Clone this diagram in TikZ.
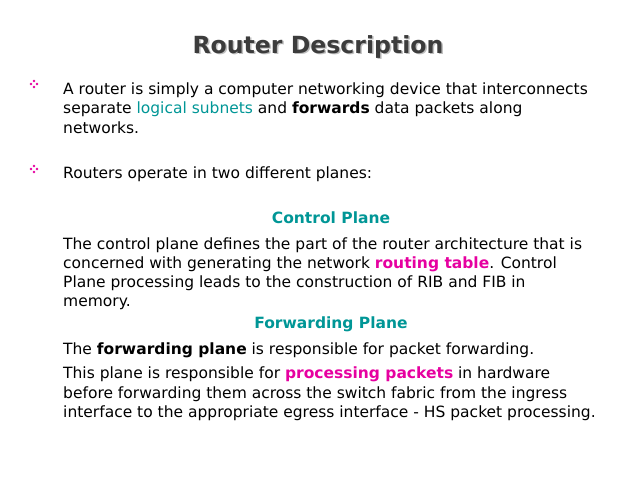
\documentclass[tikz,border=0pt]{standalone}
\usepackage{fontspec}
\setmainfont{DejaVu Sans}
\definecolor{teal2}{RGB}{0,150,150}
\definecolor{pinkm}{RGB}{230,0,160}
\definecolor{titlegray}{RGB}{60,60,60}
\begin{document}
\begin{tikzpicture}[x=1pt,y=-1pt,
  ln/.style={anchor=base west,inner sep=0pt,font=\fontsize{15.5}{18}\selectfont},
  ctr/.style={anchor=base,inner sep=0pt,font=\fontsize{15.5}{18}\selectfont\bfseries,text=teal2},
  bul/.style={fill=pinkm,circle,inner sep=0pt,minimum size=2.8pt}]
\useasboundingbox (0,0) rectangle (638,478);
\node[anchor=base,inner sep=0pt,font=\fontsize{23.6}{28}\selectfont\bfseries,text=black!25] (tsh) at (319.5,55) {Router Description};
\node[anchor=base,inner sep=0pt,font=\fontsize{23.6}{28}\selectfont\bfseries,text=titlegray] (title) at (318,53.5) {Router Description};
\node[bul] (a1) at (34,81) {}; \node[bul] (a2) at (34,87) {}; \node[bul] (a3) at (31,84) {}; \node[bul] (a4) at (37,84) {};
\node[bul] (c1) at (34,166) {}; \node[bul] (c2) at (34,172) {}; \node[bul] (c3) at (31,169) {}; \node[bul] (c4) at (37,169) {};
\node[ln] (l1) at (63,95) {A router is simply a computer networking device that interconnects};
\node[ln] (l2) at (63,114) {separate \textcolor{teal2}{logical subnets} and \textbf{forwards} data packets along};
\node[ln] (l3) at (63,134) {networks.};
\node[ln] (l4) at (63,179) {Routers operate in two different planes:};
\node[ctr] (cp) at (331,224) {Control Plane};
\node[ln] (p1) at (63,250) {The control plane defines the part of the router architecture that is};
\node[ln] (p2) at (63,269) {concerned with generating the network \textbf{\textcolor{pinkm}{routing table}}. Control};
\node[ln] (p3) at (63,288) {Plane processing leads to the construction of RIB and FIB in};
\node[ln] (p4) at (63,307) {memory.};
\node[ctr] (fp) at (331,329) {Forwarding Plane};
\node[ln] (f1) at (63,355) {The \textbf{forwarding plane} is responsible for packet forwarding.};
\node[ln] (f2) at (63,379) {This plane is responsible for \textbf{\textcolor{pinkm}{processing packets}} in hardware};
\node[ln] (f3) at (63,399) {before forwarding them across the switch fabric from the ingress};
\node[ln] (f4) at (63,418) {interface to the appropriate egress interface - HS packet processing.};
\end{tikzpicture}
\end{document}
